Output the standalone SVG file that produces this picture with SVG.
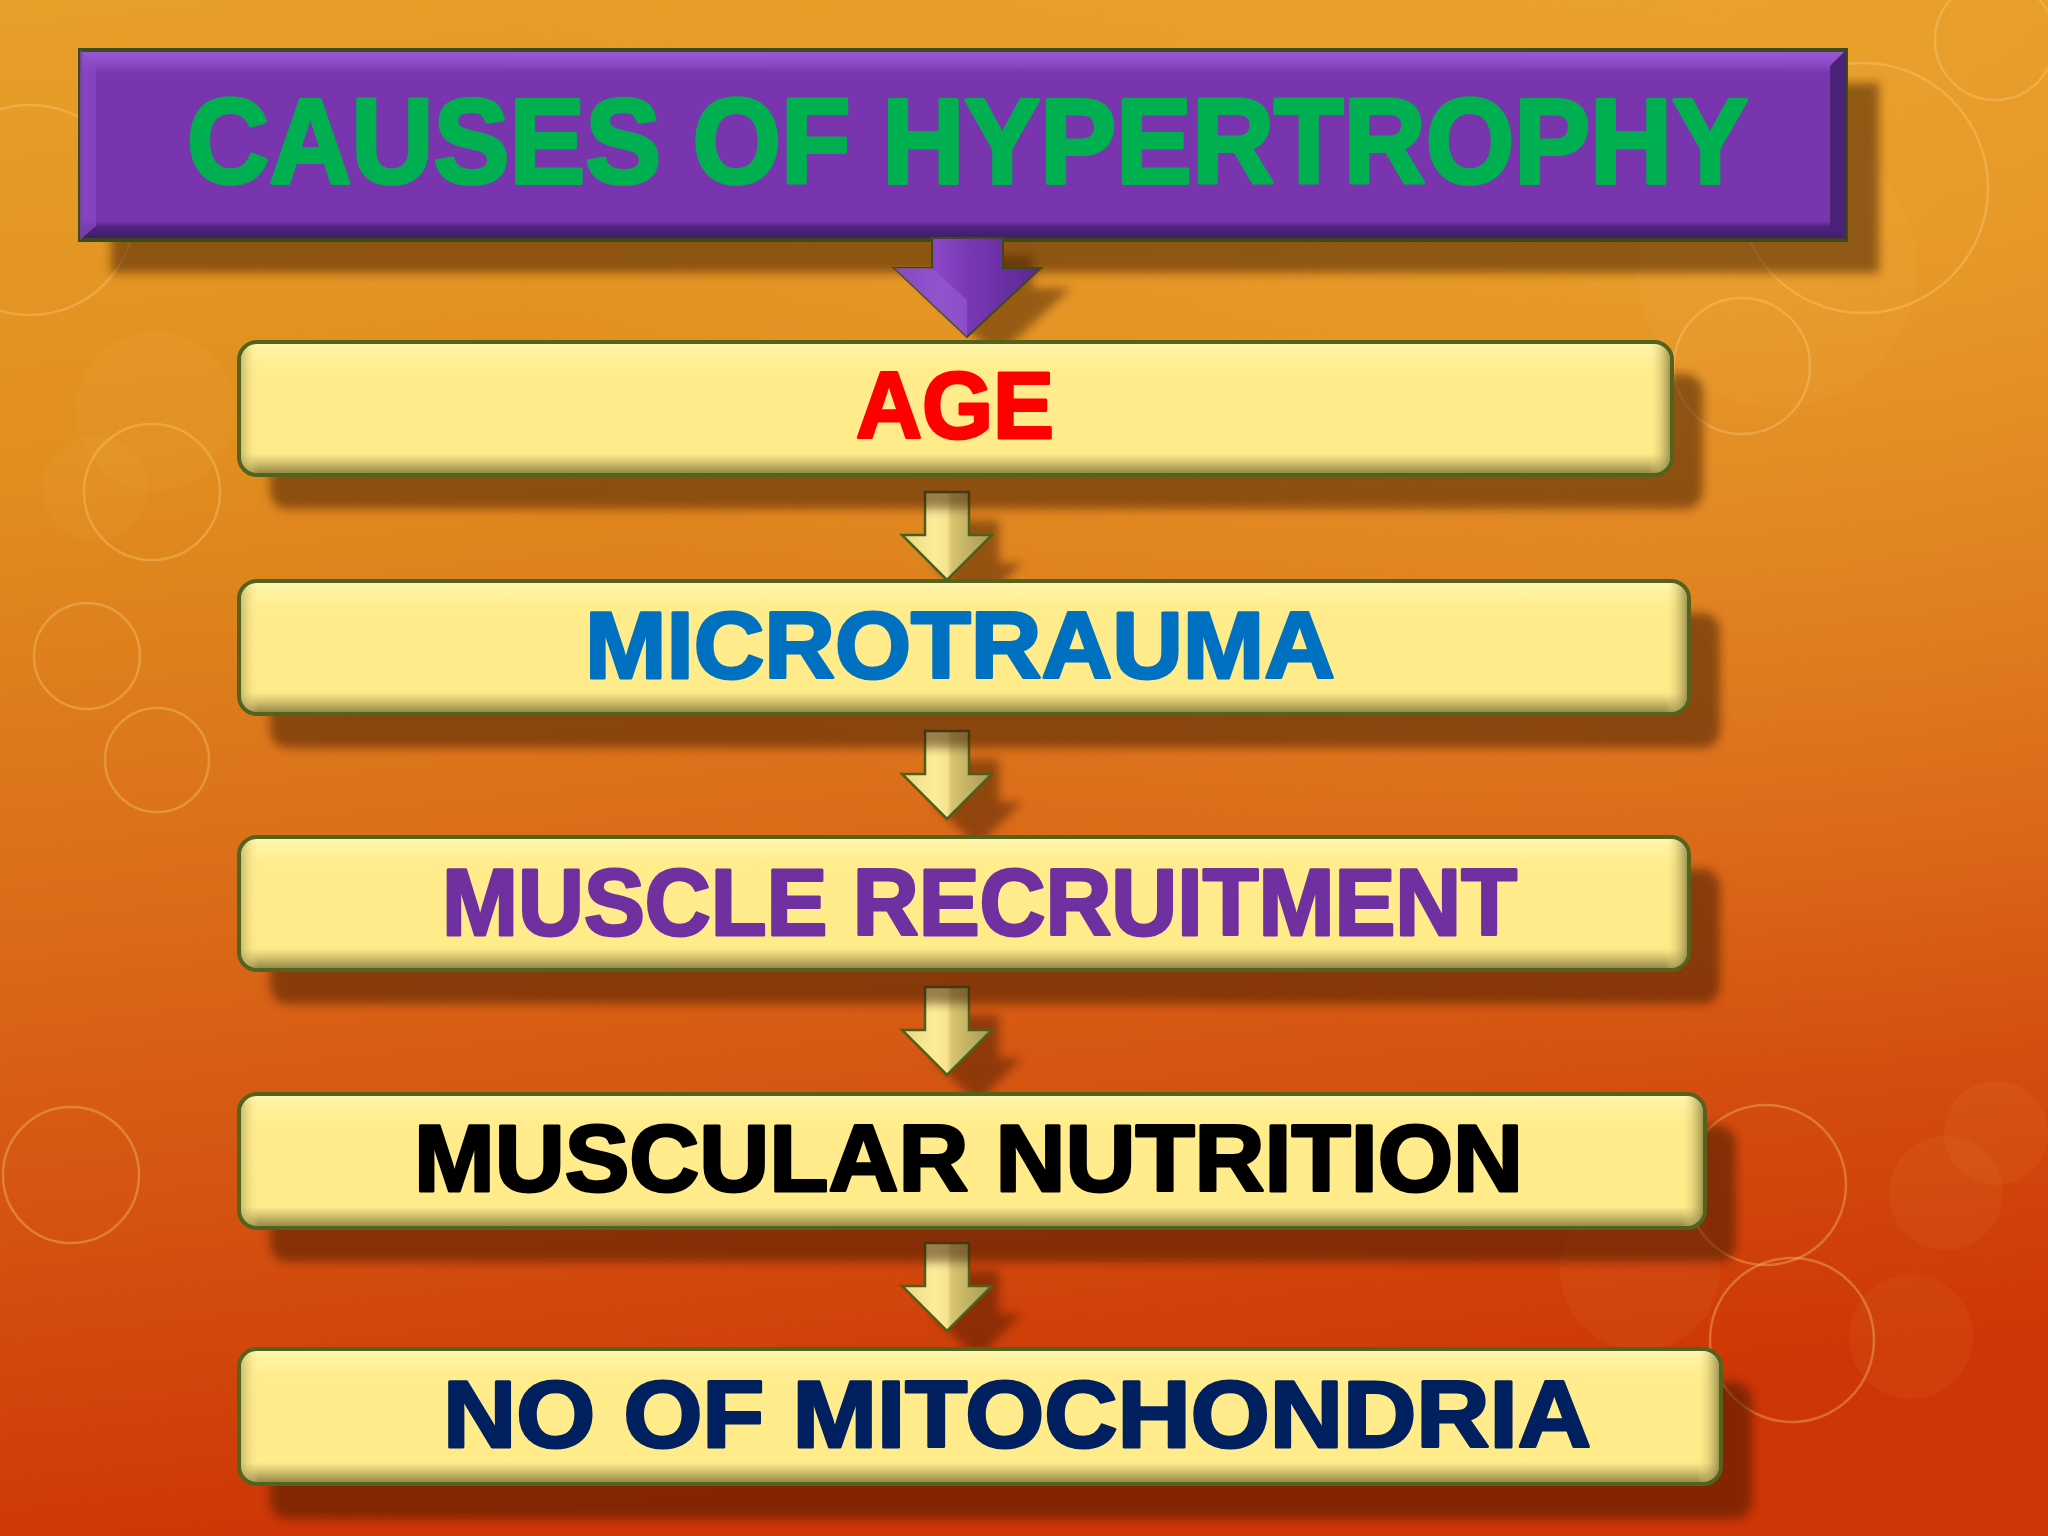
<svg xmlns="http://www.w3.org/2000/svg" width="2048" height="1536" viewBox="0 0 2048 1536">
<defs>
  <linearGradient id="bg" x1="0" y1="0" x2="0.15" y2="1">
    <stop offset="0" stop-color="#E7A029"/>
    <stop offset="0.3" stop-color="#E18E1F"/>
    <stop offset="0.55" stop-color="#DB701A"/>
    <stop offset="0.8" stop-color="#D4500F"/>
    <stop offset="1" stop-color="#CD3606"/>
  </linearGradient>
  <radialGradient id="glow" cx="0.85" cy="0.1" r="0.6">
    <stop offset="0" stop-color="#F2B23A" stop-opacity="0.4"/>
    <stop offset="1" stop-color="#F2B23A" stop-opacity="0"/>
  </radialGradient>
  <linearGradient id="boxFill" x1="0" y1="0" x2="0" y2="1">
    <stop offset="0" stop-color="#FFF7B0"/>
    <stop offset="0.12" stop-color="#FFF09A"/>
    <stop offset="0.22" stop-color="#FFEC8C"/>
    <stop offset="0.84" stop-color="#FFEB8A"/>
    <stop offset="0.9" stop-color="#D9C672"/>
    <stop offset="1" stop-color="#8C8040"/>
  </linearGradient>
  <linearGradient id="boxSide" x1="0" y1="0" x2="1" y2="0">
    <stop offset="0" stop-color="#B8A860" stop-opacity="0.7"/>
    <stop offset="0.012" stop-color="#FFEB8A" stop-opacity="0"/>
    <stop offset="0.985" stop-color="#FFEB8A" stop-opacity="0"/>
    <stop offset="1" stop-color="#8C8040" stop-opacity="0.8"/>
  </linearGradient>
  <linearGradient id="purpleFill" x1="0" y1="0" x2="0" y2="1">
    <stop offset="0" stop-color="#9D5CD8"/>
    <stop offset="0.08" stop-color="#8A47C4"/>
    <stop offset="0.12" stop-color="#7935AE"/>
    <stop offset="0.9" stop-color="#7935AE"/>
    <stop offset="0.93" stop-color="#4E2380"/>
    <stop offset="1" stop-color="#3E1C66"/>
  </linearGradient>
  <linearGradient id="arrowY" x1="0" y1="0" x2="1" y2="0">
    <stop offset="0" stop-color="#E8D67E"/>
    <stop offset="0.35" stop-color="#FCEC9A"/>
    <stop offset="0.5" stop-color="#F6E48E"/>
    <stop offset="0.55" stop-color="#D6C472"/>
    <stop offset="1" stop-color="#A89850"/>
  </linearGradient>
  <linearGradient id="arrowP" x1="0" y1="0" x2="1" y2="0">
    <stop offset="0" stop-color="#6A2DA0"/>
    <stop offset="0.3" stop-color="#8A48C8"/>
    <stop offset="0.5" stop-color="#7A38B6"/>
    <stop offset="1" stop-color="#5A2690"/>
  </linearGradient>
  <filter id="blur" x="-10%" y="-30%" width="120%" height="160%">
    <feGaussianBlur stdDeviation="5"/>
  </filter>
  <path id="yArrow" d="M -22 0 L 22 0 L 22 43 L 45 43 L 0 88 L -45 43 L -22 43 Z"/>
  <style>
    .shadow { fill: #3A1600; opacity: 0.5; filter: url(#blur); }
    .box { fill: url(#boxFill); stroke: #52631E; stroke-width: 4; }
    .side { fill: url(#boxSide); }
    .lbl { font-family: "Liberation Sans", "Arial", sans-serif; font-weight: bold; font-size: 95px; stroke-width: 3; stroke-linejoin: round; }
    .ttl { font-family: "Liberation Sans", "Arial", sans-serif; font-weight: bold; font-size: 121px; stroke-width: 4; stroke-linejoin: round; }
    .ring { fill: none; stroke: #FAD27A; stroke-width: 2.5; opacity: 0.35; }
    .blob { fill: #FFD27A; opacity: 0.05; }
  </style>
</defs>

<!-- background -->
<rect x="0" y="0" width="2048" height="1536" fill="url(#bg)"/>
<rect x="0" y="0" width="2048" height="1536" fill="url(#glow)"/>
<g id="bokeh">
  <circle class="blob" cx="1777" cy="268" r="140"/>
  <circle class="blob" cx="155" cy="411" r="80"/>
  <circle class="blob" cx="1911" cy="1337" r="62"/>
  <circle class="blob" cx="1946" cy="1193" r="57"/>
  <circle class="blob" cx="1996" cy="1133" r="52"/>
  <circle class="blob" cx="95" cy="488" r="53"/>
  <circle class="blob" cx="1640" cy="1270" r="80"/>
  <circle class="ring" cx="30" cy="210" r="105"/>
  <circle class="ring" cx="1863" cy="188" r="125"/>
  <circle class="ring" cx="1742" cy="366" r="68"/>
  <circle class="ring" cx="152" cy="492" r="68"/>
  <circle class="ring" cx="87" cy="656" r="53"/>
  <circle class="ring" cx="157" cy="760" r="52"/>
  <circle class="ring" cx="1766" cy="1185" r="80"/>
  <circle class="ring" cx="1792" cy="1340" r="82"/>
  <circle class="ring" cx="71" cy="1175" r="68"/>
  <circle class="ring" cx="1995" cy="40" r="60" opacity="0.2"/>
</g>

<!-- title node -->
<g id="title">
  <rect class="shadow" x="111" y="83" width="1768" height="190"/>
  <rect x="80" y="50" width="1766" height="190" fill="url(#purpleFill)" stroke="#3D4A1A" stroke-width="4"/>
  <polygon points="1830,66 1846,50 1846,240 1830,226" fill="#4A2278"/>
  <polygon points="80,50 96,66 96,226 80,240" fill="#8A4AC6" opacity="0.7"/>
  <text x="187" y="183" class="ttl" fill="#00B050" stroke="#00B050" textLength="1561" lengthAdjust="spacingAndGlyphs">CAUSES OF HYPERTROPHY</text>
</g>

<!-- connectors -->
<g id="connectors">
  <g id="arrow-title-age">
    <path d="M 932 236 L 1003 236 L 1003 268 L 1041 268 L 967 337 L 894 268 L 932 268 Z" fill="#3A1600" opacity="0.45" filter="url(#blur)" transform="translate(30,20)"/>
    <path d="M 932 238 L 1003 238 L 1003 268 L 1041 268 L 967 337 L 894 268 L 932 268 Z" fill="url(#arrowP)" stroke="#3D4A1A" stroke-width="2"/>
    <path d="M 894 268 L 932 268 L 967 300 L 967 337 Z" fill="#9A5AD4" opacity="0.6"/>
  </g>
  <g id="arrow-age-micro" transform="translate(947,492)">
    <use href="#yArrow" fill="#3A1600" opacity="0.45" filter="url(#blur)" transform="translate(30,28)"/>
    <use href="#yArrow" fill="url(#arrowY)" stroke="#4F5E1C" stroke-width="2.5"/>
  </g>
  <g id="arrow-micro-muscle" transform="translate(947,731)">
    <use href="#yArrow" fill="#3A1600" opacity="0.45" filter="url(#blur)" transform="translate(30,28)"/>
    <use href="#yArrow" fill="url(#arrowY)" stroke="#4F5E1C" stroke-width="2.5"/>
  </g>
  <g id="arrow-muscle-nutrition" transform="translate(947,987)">
    <use href="#yArrow" fill="#3A1600" opacity="0.45" filter="url(#blur)" transform="translate(30,28)"/>
    <use href="#yArrow" fill="url(#arrowY)" stroke="#4F5E1C" stroke-width="2.5"/>
  </g>
  <g id="arrow-nutrition-mito" transform="translate(947,1243)">
    <use href="#yArrow" fill="#3A1600" opacity="0.45" filter="url(#blur)" transform="translate(30,28)"/>
    <use href="#yArrow" fill="url(#arrowY)" stroke="#4F5E1C" stroke-width="2.5"/>
  </g>
</g>

<!-- nodes -->
<g id="node-age">
  <rect class="shadow" x="270" y="374" width="1433" height="135" rx="18"/>
  <rect class="box" x="239" y="342" width="1433" height="133" rx="18"/>
  <rect class="side" x="241" y="344" width="1429" height="129" rx="16"/>
  <text x="856" y="438" class="lbl" fill="#FF0000" stroke="#FF0000" textLength="198" lengthAdjust="spacingAndGlyphs">AGE</text>
</g>

<g id="node-microtrauma">
  <rect class="shadow" x="270" y="613" width="1450" height="135" rx="18"/>
  <rect class="box" x="239" y="581" width="1450" height="133" rx="18"/>
  <rect class="side" x="241" y="583" width="1446" height="129" rx="16"/>
  <text x="585" y="678" class="lbl" fill="#0070C0" stroke="#0070C0" textLength="750" lengthAdjust="spacingAndGlyphs">MICROTRAUMA</text>
</g>

<g id="node-muscle-recruitment">
  <rect class="shadow" x="270" y="869" width="1450" height="135" rx="18"/>
  <rect class="box" x="239" y="837" width="1450" height="133" rx="18"/>
  <rect class="side" x="241" y="839" width="1446" height="129" rx="16"/>
  <text x="442" y="935" class="lbl" fill="#7030A0" stroke="#7030A0" textLength="1075" lengthAdjust="spacingAndGlyphs">MUSCLE RECRUITMENT</text>
</g>

<g id="node-muscular-nutrition">
  <rect class="shadow" x="270" y="1126" width="1466" height="136" rx="18"/>
  <rect class="box" x="239" y="1094" width="1466" height="134" rx="18"/>
  <rect class="side" x="241" y="1096" width="1462" height="130" rx="16"/>
  <text x="414" y="1191" class="lbl" fill="#000000" stroke="#000000" textLength="1109" lengthAdjust="spacingAndGlyphs">MUSCULAR NUTRITION</text>
</g>

<g id="node-mitochondria">
  <rect class="shadow" x="270" y="1382" width="1482" height="137" rx="18"/>
  <rect class="box" x="239" y="1349" width="1482" height="135" rx="18"/>
  <rect class="side" x="241" y="1351" width="1478" height="131" rx="16"/>
  <text x="443" y="1447" class="lbl" fill="#002060" stroke="#002060" textLength="1148" lengthAdjust="spacingAndGlyphs">NO OF MITOCHONDRIA</text>
</g>
</svg>
